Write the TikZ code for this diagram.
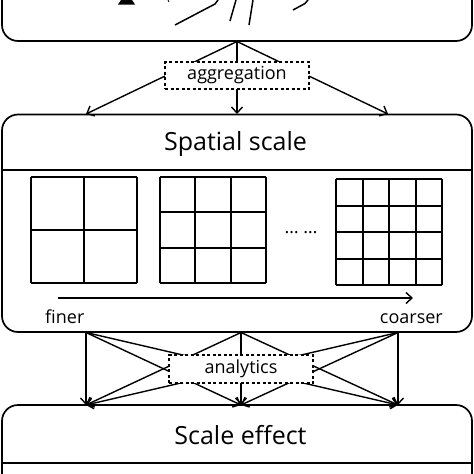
\documentclass[tikz,border=0pt]{standalone}
\usepackage{fontspec}
\setmainfont{Open Sans}
\usetikzlibrary{arrows.meta}
\begin{document}
\begin{tikzpicture}[x=1pt,y=-1pt,
  box/.style={line width=1.7pt, rounded corners=16pt},
  sep/.style={line width=1.5pt},
  conn/.style={line width=1.4pt, -{Straight Barb[length=6pt,width=11pt,line width=1.4pt]}},
  gridline/.style={line width=1.6pt},
  sketch/.style={line width=1.5pt},
  dashbox/.style={draw, dash pattern=on 3pt off 2.5pt, line width=1.3pt, fill=white,
    minimum width=144pt, inner sep=0pt},
  small/.style={font=\fontsize{18}{20}\selectfont},
  big/.style={font=\fontsize{25}{28}\selectfont}]
\useasboundingbox (0,0) rectangle (474,474);
\clip (0,0) rectangle (474,474);
\fill[white] (0,0) rectangle (474,474);

% top box (cut off)
\draw[box] (2,-40) rectangle (472,41);
\fill (118,4.5) -- (121,0) -- (132,0) -- (135,4.5) -- cycle;
\draw[sketch] (175,25) -- (215,4) -- (218,0);
\draw[sketch] (230,21) -- (236,0);
\draw[sketch] (249,25) -- (253,0);
\draw[sketch] (293,10) -- (305,3.5) -- (308,0);
\draw[line width=0.8pt] (168,0) -- (169,2);

% spatial scale box
\draw[box] (2,114.5) rectangle (472,332);
\draw[sep] (2,170) -- (472,170);
\node[big, anchor=base] (sp) at (235.5,150.7) {Spatial scale};

\foreach \gx/\gy/\n in {31/177/2,160/177/3,336/179/4}{
  \foreach \i in {0,...,\n}{
    \pgfmathsetmacro\off{round(\i*106/\n)}
    \draw[gridline] ({\gx+\off},\gy) -- ({\gx+\off},{\gy+106});
    \draw[gridline] (\gx,{\gy+\off}) -- ({\gx+106},{\gy+\off});
  }
}
\node[small, anchor=base] (dots) at (301,233) {… …};

\coordinate (fa) at (58,298);
\coordinate (fb) at (413,298);
\draw[conn] (fa) -- (fb);
\node[small, anchor=base west, inner sep=0pt] (finer) at (45,323) {finer};
\node[small, anchor=base east, inner sep=0pt] (coarser) at (443,323) {coarser};

% scale effect box
\draw[box] (2,405) rectangle (472,530);
\draw[sep] (2,463) -- (472,463);
\node[big, anchor=base] (se) at (240.5,444) {Scale effect};

% aggregation connectors
\coordinate (a0) at (237,41.5);
\foreach \x [count=\k] in {86,237,388} \coordinate (a\k) at (\x,114);
\foreach \k in {1,2,3} \draw[conn] (a0) -- (a\k);
\node[dashbox, small, minimum height=27pt] (agg) at (237,75.5) {aggregation};

% analytics connectors
\foreach \x [count=\k] in {86,241,398}{
  \coordinate (u\k) at (\x,332.5);
  \coordinate (d\k) at (\x,405);
}
\foreach \i in {1,2,3}{
  \foreach \j in {1,2,3}{
    \draw[conn] (u\i) -- (d\j);
  }
}
\node[dashbox, small, minimum height=28pt] (ana) at (241,369) {analytics};
\end{tikzpicture}
\end{document}
